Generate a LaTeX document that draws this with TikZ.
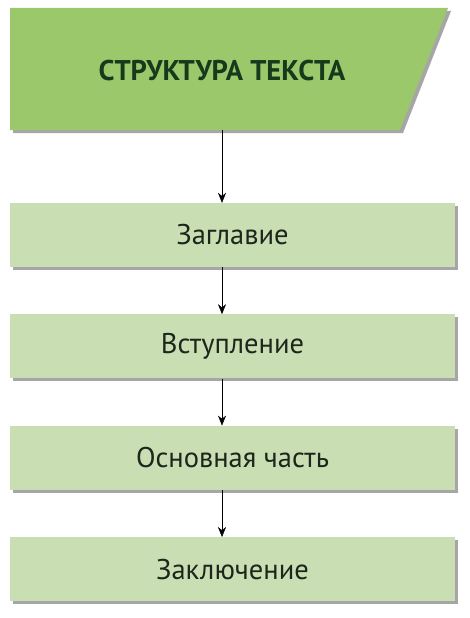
\documentclass[tikz,border=0pt]{standalone}
\usepackage{fontspec}
\setmainfont{PT Sans}
\usetikzlibrary{positioning,shadows,arrows.meta}
\tikzset{>={Stealth[length=10pt,width=8pt]}}
\definecolor{headgreen}{HTML}{9BC86B}
\definecolor{boxgreen}{HTML}{C9DFB3}
\definecolor{darktext}{HTML}{1C261C}
\definecolor{headtext}{HTML}{173A1C}

\begin{document}
\begin{tikzpicture}[x=1pt,y=-1pt,
shade/.style = {
    drop shadow={shadow xshift=3pt,shadow yshift=-3pt,
                 fill=black!35,opacity=1},
                },
part/.style = {
    fill=boxgreen, shade,
    minimum width=445pt, minimum height=64pt,
    inner sep=0pt,
    text=darktext, font=\fontsize{28.5}{32}\selectfont,
                },
                    ]
\fill[white] (0,0) rectangle (470,618);
% head of the scheme
\path[fill=headgreen,shade] (10,8) -- (448,8) -- (400,130) -- (10,130) -- cycle;
\node[text=headtext,font=\fontsize{28.5}{32}\selectfont\bfseries]
    (head) at (222,71) {СТРУКТУРА ТЕКСТА};
\coordinate (headfoot) at (222,130);
% parts
\node[part] (title)                      at (232.5,235) {Заглавие};
\node[part,below=47pt of title] (intro)  {Вступление};
\node[part,below=47pt of intro] (main)   {Основная часть};
\node[part,below=47pt of main]  (ending) {Заключение};
% arrows
\draw[->] (headfoot) -- ([xshift=-10.5pt]title.north);
\draw[->] ([xshift=-10.5pt]title.south) -- ([xshift=-10.5pt]intro.north);
\draw[->] ([xshift=-10.5pt]intro.south) -- ([xshift=-10.5pt]main.north);
\draw[->] ([xshift=-10.5pt]main.south)  -- ([xshift=-10.5pt]ending.north);
\end{tikzpicture}
\end{document}
